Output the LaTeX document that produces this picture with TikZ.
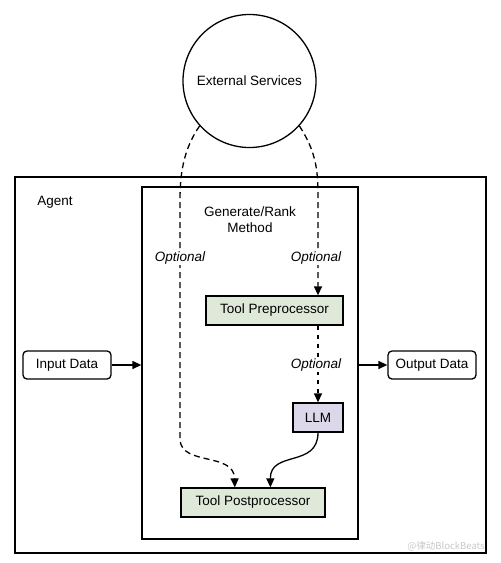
\documentclass[tikz,border=0pt]{standalone}
\usepackage{fontspec}
\setmainfont{Liberation Sans}
\newfontfamily\cjkfont{Noto Sans CJK SC}
\usetikzlibrary{arrows.meta, calc, positioning}
\definecolor{toolgreen}{HTML}{DFE9D9}
\definecolor{llmpurple}{HTML}{DCD8EA}
\tikzset{
    box/.style={draw, minimum height=29, inner sep=0pt},
    iobox/.style={draw, rounded corners=4pt, minimum width=88, minimum height=28, inner sep=0pt},
    optdash/.style={dash pattern=on 6pt off 4pt},
    shortdash/.style={dash pattern=on 4pt off 5pt},
    optlabel/.style={fill=white, inner sep=1pt, font=\fontsize{13.5}{15}\selectfont\itshape}
}

\begin{document}
\begin{tikzpicture}[x=1pt, y=-1pt, line width=1.3pt, >={Triangle[length=9pt,width=8pt]},
        font=\fontsize{13.5}{16}\selectfont]
    \useasboundingbox (0,0) rectangle (501,563);
    % outer frames
    \node[draw, circle, minimum size=133] (ext) at (249.5,81) {External Services};
    \node[draw, minimum width=471, minimum height=376] (agent) at (250.5,365) {};
    \node (agentlbl) at (55,202) {Agent};
    \node[draw, minimum width=216, minimum height=352] (method) at (250,363) {};
    \node[align=center] (methodlbl) at (250,220) {Generate/Rank\\Method};

    % tools
    \node[box, fill=toolgreen, minimum width=137] (pre) at (274.5,310.5) {Tool Preprocessor};
    \node[box, fill=llmpurple, minimum width=50] (llm) at (318,417.5) {LLM};
    \node[box, fill=toolgreen, minimum width=144] (post) at (253,502.5) {Tool Postprocessor};
    \coordinate (postin1) at ($(post.north west)!0.375!(post.north east)$);
    \coordinate (postin2) at ($(post.north west)!0.62!(post.north east)$);

    % data in and out
    \node[iobox] (in) at (67,365) {Input Data};
    \node[iobox] (out) at (432,365) {Output Data};
    \draw[->] (in.east) -- (in.east -| method.west);
    \draw[->] (out.west -| method.east) -- (out.west);

    % optional calls
    \draw[->, optdash] (ext.222) .. controls (183,150) and (180,175) .. (180,200)
        -- (180,440) .. controls (182,466) and (234,452) .. (postin1);
    \draw[->, optdash] (ext.318) .. controls (315,150) and (318,168) .. (318,195)
        -- (pre.north -| llm.north);
    \draw[->, shortdash] (pre.south -| llm.north) -- (llm.north);
    \draw[->] (llm.south) .. controls (318,468) and (270,450) .. (postin2);
    \node[optlabel] (opt1) at (180,258) {Optional};
    \node[optlabel] (opt2) at (316,258) {Optional};
    \node[optlabel] (opt3) at (316,365) {Optional};

    \node[text=black!22, font=\fontsize{9.5}{12}\cjkfont] (mark) at (446,546) {@律动BlockBeats};
\end{tikzpicture}
\end{document}
